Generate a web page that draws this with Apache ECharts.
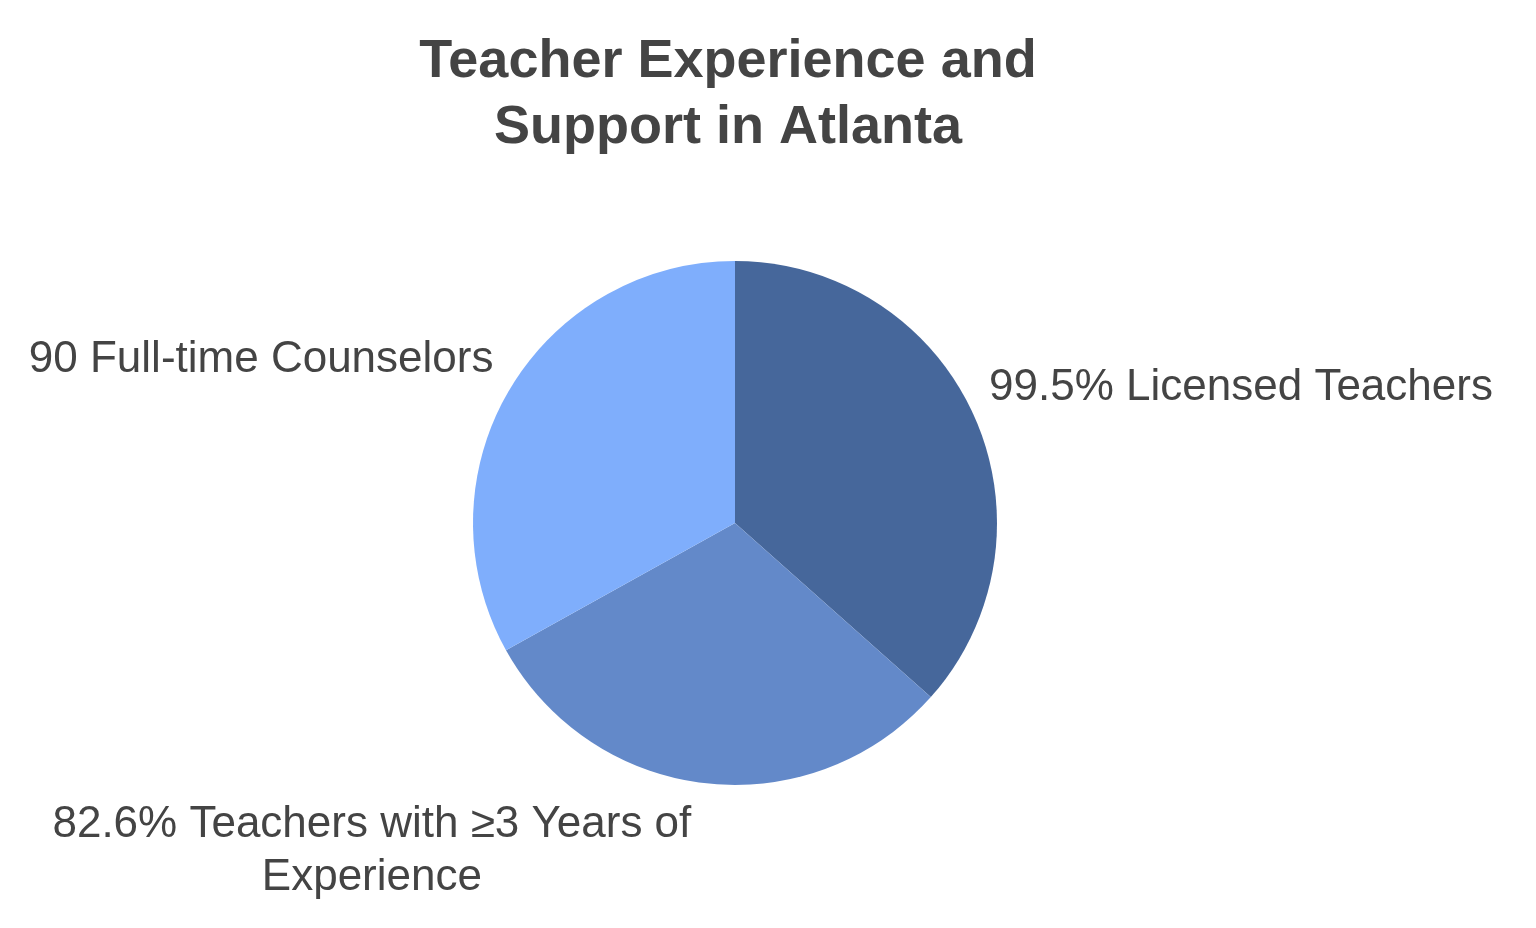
<!DOCTYPE html>
<html>
<head>
<meta charset="utf-8">
<script src="https://cdn.jsdelivr.net/npm/echarts@6/dist/echarts.min.js"></script>
<style>
  html, body { margin: 0; padding: 0; background: #fff; }
  #pie-chart { width: 1536px; height: 928px; }
</style>
</head>
<body>
<div id="pie-chart"></div>
<script>
// data
var labels = ['99.5% Licensed Teachers', '82.6% Teachers with ≥3 Years of\nExperience', '90 Full-time Counselors']
var values = [99.5, 82.6, 90]
var colors = ['#46679b', '#6389c9', '#7faefc']

var chart = echarts.init(document.getElementById('pie-chart'))

// label line offsets so the labels sit where the reference puts them
var len1 = [68, 68, 60]
var len2 = [-52, 2, -41]

var seriesData = []
for (var i in values) {
  var item = {
    name: labels[i],
    value: values[i],
    itemStyle: { color: colors[i] },
    labelLine: { show: false, length: len1[i], length2: len2[i] }
  }
  if (labels[i].indexOf('\n') >= 0) {
    var parts = labels[i].split('\n')
    item.label = {
      formatter: '{a|' + parts[0] + '}\n{a|' + parts[1] + '}',
      rich: {
        a: { width: 640, align: 'center', fontSize: 44, lineHeight: 53, color: '#444444', fontFamily: 'Liberation Sans' }
      }
    }
  }
  seriesData.push(item)
}

var option = {
  animation: false,
  title: {
    text: 'Teacher Experience and\nSupport in Atlanta',
    left: 723,
    top: 24,
    textAlign: 'center',
    textStyle: {
      fontFamily: 'Liberation Sans',
      fontWeight: 'bold',
      fontSize: 54,
      lineHeight: 66,
      color: '#444444'
    }
  },
  series: [
    {
      type: 'pie',
      center: [735, 523],
      radius: 262,
      startAngle: 90,
      clockwise: true,
      avoidLabelOverlap: false,
      label: {
        show: true,
        position: 'outside',
        formatter: '{b}',
        fontFamily: 'Liberation Sans',
        fontSize: 44,
        color: '#444444'
      },
      emphasis: { disabled: true },
      data: seriesData
    }
  ]
}

chart.setOption(option)
window.onresize = chart.resize
</script>
</body>
</html>
